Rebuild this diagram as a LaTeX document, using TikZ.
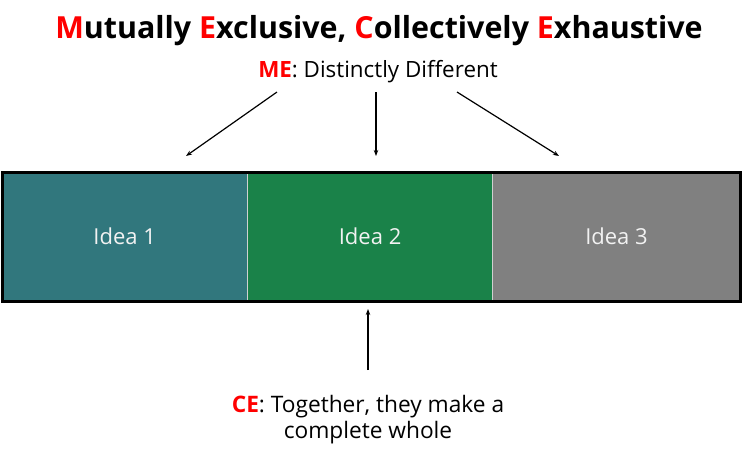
\documentclass[tikz,border=0pt]{standalone}
\usepackage{fontspec}
\setmainfont{Open Sans}
\usetikzlibrary{arrows.meta}
\definecolor{mered}{HTML}{FF0000}
\definecolor{ideateal}{HTML}{31777D}
\definecolor{ideagreen}{HTML}{1A8249}
\definecolor{ideagray}{HTML}{808080}
\definecolor{ideatext}{HTML}{F2F2F2}
\definecolor{divline}{HTML}{D0D0D0}
\tikzset{
  ideabox/.style={rectangle, inner sep=0pt, minimum width=245pt, minimum height=129pt,
    text=ideatext, font=\fontsize{22}{26}\selectfont},
  arr/.style={line width=1.2pt, -{Stealth[length=6pt,width=4.5pt]}},
  divider/.style={draw=divline, line width=0.8pt},
  frame/.style={draw=black, line width=3pt},
}
\begin{document}
\begin{tikzpicture}[x=1pt,y=-1pt]
\useasboundingbox (0,0) rectangle (753,459);
\node[anchor=base, inner sep=0pt, font=\bfseries\fontsize{30.4}{35}\selectfont] (title) at (379,38)
  {\textcolor{mered}{M}utually \textcolor{mered}{E}xclusive, \textcolor{mered}{C}ollectively \textcolor{mered}{E}xhaustive};
\node[anchor=base, inner sep=0pt, font=\fontsize{22.4}{26}\selectfont] (me) at (378,77)
  {\textcolor{mered}{\bfseries ME}: Distinctly Different};
\node[ideabox, fill=ideateal, anchor=north west] (idea1) at (2,172) {Idea 1};
\node[ideabox, fill=ideagreen, anchor=west] (idea2) at (idea1.east) {Idea 2};
\node[ideabox, fill=ideagray, minimum width=247pt, anchor=west] (idea3) at (idea2.east) {Idea 3};
\draw[divider] (idea1.north east) -- (idea1.south east);
\draw[divider] (idea2.north east) -- (idea2.south east);
\draw[frame] (idea1.north west) rectangle (idea3.south east);
\coordinate (s1) at (277,92);
\coordinate (s2) at (376,92);
\coordinate (s3) at (457,92);
\coordinate (e1) at (186,156);
\coordinate (e2) at (376,156);
\coordinate (e3) at (559,156);
\draw[arr] (s1) -- (e1);
\draw[arr] (s2) -- (e2);
\draw[arr] (s3) -- (e3);
\node[anchor=base, inner sep=0pt, align=center, font=\fontsize{22.7}{26}\selectfont] (ce) at (368,438)
  {\textcolor{mered}{\bfseries CE}: Together, they make a\\complete whole};
\coordinate (cs) at (368,370);
\coordinate (ct) at (368,309);
\draw[arr] (cs) -- (ct);
\end{tikzpicture}
\end{document}
